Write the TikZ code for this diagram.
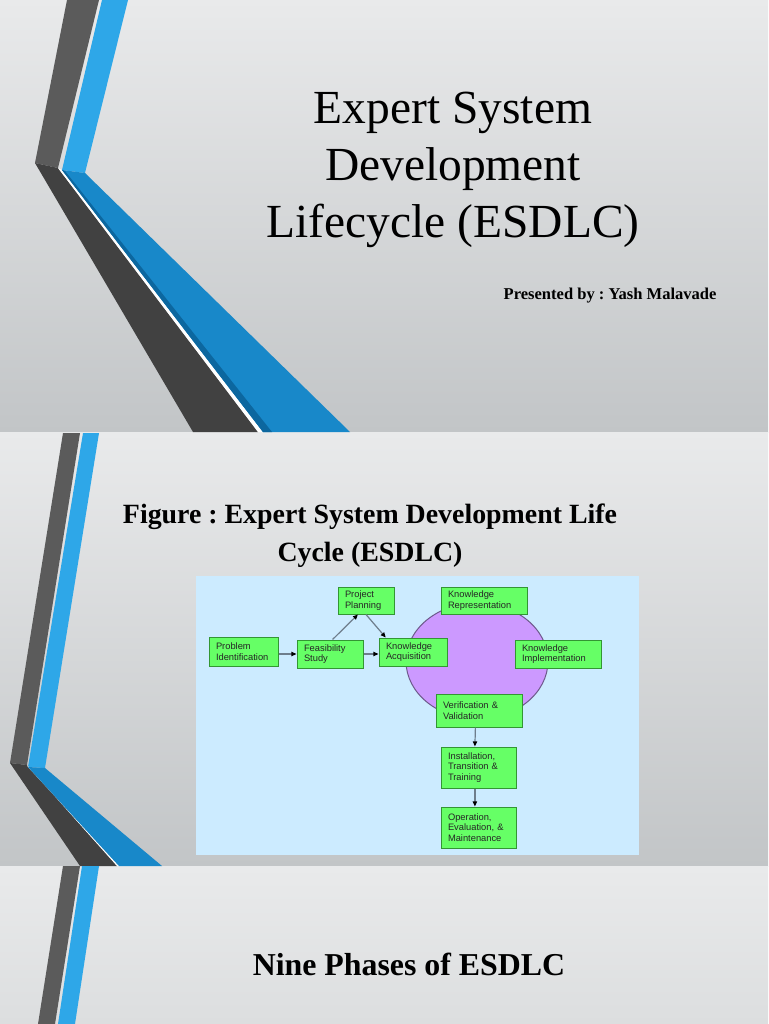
\documentclass[tikz,border=0pt]{standalone}
\usepackage{fontspec}
\setmainfont{Liberation Serif}
\newfontfamily\boxfont{Liberation Sans}
\usetikzlibrary{arrows.meta}
\frenchspacing

\definecolor{slidetop}{RGB}{233,234,235}
\definecolor{slidebot}{RGB}{194,197,199}
\definecolor{slidemid}{RGB}{220,222,223}
\definecolor{bandgray}{RGB}{91,91,91}
\definecolor{banddark}{RGB}{65,65,65}
\definecolor{bandblue}{RGB}{46,167,232}
\definecolor{banddeep}{RGB}{24,136,201}
\definecolor{bandshadow}{RGB}{12,103,159}
\definecolor{figbg}{RGB}{204,235,255}
\definecolor{ringfill}{RGB}{204,153,255}
\definecolor{ringedge}{RGB}{110,90,140}
\definecolor{boxfill}{RGB}{102,255,102}
\definecolor{boxedge}{RGB}{51,150,51}
\definecolor{flowline}{RGB}{110,125,140}

\tikzset{every picture/.style={line width=0.75pt}}
\tikzset{
  phasebox/.style={draw=boxedge, fill=boxfill, align=left, inner xsep=5.25pt, inner ysep=0pt, text=black!85, font=\boxfont\fontsize{7}{8}\selectfont},
  flow/.style={color=flowline, line width=0.9pt, -{Triangle[length=3.8pt,width=3.2pt,color=black]}},
  bigtitle/.style={anchor=base, inner sep=0.75pt, font=\fontsize{35.6}{42.75}\selectfont},
  headtitle/.style={anchor=base, inner sep=0.75pt, font=\bfseries\fontsize{20.9}{26}\selectfont}
}

\begin{document}
\begin{tikzpicture}[x=0.75pt,y=0.75pt,yscale=-1,xscale=1]
    \useasboundingbox (0,0) rectangle (768,1024);
    % slide backgrounds
    \shade [top color=slidetop, bottom color=slidebot] (0,0) rectangle (768,432);
    \shade [top color=slidetop, bottom color=slidebot] (0,432) rectangle (768,866);
    \shade [top color=slidetop, bottom color=slidemid] (0,866) rectangle (768,1024);
    % bands, slide 1
    \fill [bandgray] (67,0) -- (99,0) -- (58,168) -- (35,163) -- cycle;
    \fill [bandblue] (102,0) -- (128,0) -- (85,173) -- (62,170) -- cycle;
    \fill [banddark] (35,163) -- (58,168) -- (258,432) -- (193,432) -- cycle;
    \fill [white] (58,168) -- (62,170) -- (263,432) -- (258,432) -- cycle;
    \fill [banddeep] (62,170) -- (85,173) -- (350,432) -- (263,432) -- cycle;
    \fill [bandshadow] (62,170) -- (65,171) -- (272,432) -- (263,432) -- cycle;
    % bands, slide 2
    \fill [bandgray] (63,433) -- (80,433) -- (27,765) -- (10,763) -- cycle;
    \fill [bandblue] (83,433) -- (99,433) -- (45,768) -- (28,767) -- cycle;
    \fill [banddark] (10,763) -- (27,765) -- (117,866) -- (80,866) -- cycle;
    \fill [white] (27,765) -- (28,767) -- (119,866) -- (117,866) -- cycle;
    \fill [banddeep] (28,767) -- (45,768) -- (162,866) -- (119,866) -- cycle;
    % bands, slide 3
    \fill [bandgray] (63,866) -- (80,866) -- (55,1024) -- (38,1024) -- cycle;
    \fill [bandblue] (82,866) -- (99,866) -- (75,1024) -- (58,1024) -- cycle;

    % titles
    \node [bigtitle] (titleA) at (453,123) {Expert System};
    \node [bigtitle] (titleB) at (453,180) {Development};
    \node [bigtitle] (titleC) at (453,237) {Lifecycle (ESDLC)};
    \node [anchor=base east, inner sep=0.75pt, font=\bfseries\fontsize{12.4}{15}\selectfont] (byline) at (718,299) {Presented by : Yash Malavade};
    \node [headtitle] (figtitleA) at (370,523) {Figure : Expert System Development Life};
    \node [headtitle] (figtitleB) at (370,561) {Cycle (ESDLC)};
    \node [headtitle, font=\bfseries\fontsize{23.9}{28}\selectfont] (phasestitle) at (409,975) {Nine Phases of ESDLC};

    % figure
    \fill [figbg] (196,576) rectangle (639,855);
    \draw [color=ringedge, fill=ringfill] (477,661) ellipse [x radius=71, y radius=58];
    \node [phasebox, text width=41.25pt, minimum height=21.75pt] (pi) at (243.5,651.5) {Problem\\Identification};
    \node [phasebox, text width=39pt, minimum height=21pt] (fs) at (330,654) {Feasibility\\Study};
    \node [phasebox, text width=31.5pt, minimum height=20.25pt] (pp) at (366,600.5) {Project\\Planning};
    \node [phasebox, text width=40.5pt, minimum height=21pt] (ka) at (413,652) {Knowledge\\Acquisition};
    \node [phasebox, text width=54pt, minimum height=20.25pt] (kr) at (484,600.5) {Knowledge\\Representation};
    \node [phasebox, text width=54pt, minimum height=21pt] (ki) at (558,654) {Knowledge\\Implementation};
    \node [phasebox, text width=54pt, minimum height=24.75pt] (vv) at (479,710.5) {Verification \&\\Validation};
    \node [phasebox, text width=45.75pt, minimum height=30.75pt] (itt) at (478.5,767.5) {Installation,\\Transition \&\\Training};
    \node [phasebox, text width=45.75pt, minimum height=30.75pt] (oem) at (478.5,827.5) {Operation,\\Evaluation, \&\\Maintenance};

    \draw [flow] (pi.east |- fs.west) -- (fs.west);
    \draw [flow] (fs.east) -- (fs.east -| ka.west);
    \draw [flow] (fs.80) -- (pp.-120);
    \draw [flow] (pp.south) -- (ka.152);
    \draw [flow] ([xshift=-2.7pt]vv.south) -- ([xshift=-2.7pt]itt.north);
    \draw [flow] ([xshift=-2.7pt]itt.south) -- ([xshift=-2.7pt]oem.north);
\end{tikzpicture}
\end{document}
